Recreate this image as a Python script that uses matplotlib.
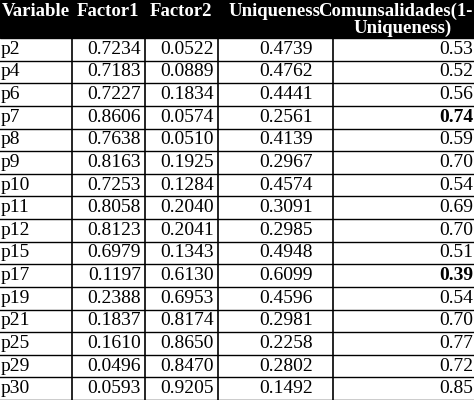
import matplotlib
matplotlib.use("Agg")
import matplotlib.pyplot as plt

variables = ["p2", "p4", "p6", "p7", "p8", "p9", "p10", "p11", "p12", "p15",
             "p17", "p19", "p21", "p25", "p29", "p30"]
factor1 = ["0.7234", "0.7183", "0.7227", "0.8606", "0.7638", "0.8163", "0.7253", "0.8058",
           "0.8123", "0.6979", "0.1197", "0.2388", "0.1837", "0.1610", "0.0496", "0.0593"]
factor2 = ["0.0522", "0.0889", "0.1834", "0.0574", "0.0510", "0.1925", "0.1284", "0.2040",
           "0.2041", "0.1343", "0.6130", "0.6953", "0.8174", "0.8650", "0.8470", "0.9205"]
uniqueness = ["0.4739", "0.4762", "0.4441", "0.2561", "0.4139", "0.2967", "0.4574", "0.3091",
              "0.2985", "0.4948", "0.6099", "0.4596", "0.2981", "0.2258", "0.2802", "0.1492"]
communality = ["0.53", "0.52", "0.56", "0.74", "0.59", "0.70", "0.54", "0.69",
               "0.70", "0.51", "0.39", "0.54", "0.70", "0.77", "0.72", "0.85"]
bold_rows = {"p7", "p17"}

W, H = 474, 400
col_edges = [0, 72, 145, 218, 333, 474]
header_h = 38
row_h = (H - header_h) / len(variables)

plt.rcParams["font.family"] = ["Liberation Serif", "DejaVu Serif"]
fig = plt.figure(figsize=(W / 100, H / 100), dpi=100)
ax = fig.add_axes([0, 0, 1, 1])
ax.set_xlim(0, W)
ax.set_ylim(H, 0)
ax.axis("off")

# header
ax.add_patch(plt.Rectangle((0, 0), W, header_h, color="black"))
hdr = dict(color="white", fontweight="bold", fontsize=13.5, va="center")
ax.text(2, 11, "Variable", ha="left", **hdr)
ax.text(108, 11, "Factor1", ha="center", **hdr)
ax.text(181, 11, "Factor2", ha="center", **hdr)
ax.text(275, 11, "Uniqueness", ha="center", **hdr)
ax.text(473, 11, "Comunsalidades(1-", ha="right", **hdr)
ax.text(403, 28, "Uniqueness)", ha="center", **hdr)

fs = 14
for i, v in enumerate(variables):
    yc = header_h + (i + 0.5) * row_h
    ax.text(1, yc, v, ha="left", va="center", fontsize=fs)
    ax.text(141, yc, factor1[i], ha="right", va="center", fontsize=fs)
    ax.text(214, yc, factor2[i], ha="right", va="center", fontsize=fs)
    ax.text(313, yc, uniqueness[i], ha="right", va="center", fontsize=fs)
    ax.text(473, yc, communality[i], ha="right", va="center", fontsize=fs,
            fontweight="bold" if v in bold_rows else "normal")
    yb = header_h + (i + 1) * row_h
    ax.plot([0, W], [yb, yb], color="black", lw=1)

for x in col_edges[1:-1]:
    ax.plot([x, x], [0, H], color="black", lw=1.2)

fig.savefig("out.png", dpi=100, facecolor="white")
